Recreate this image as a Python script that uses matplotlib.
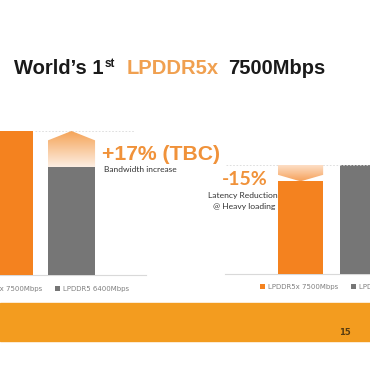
import matplotlib
matplotlib.use("Agg")
import numpy as np
import matplotlib.pyplot as plt
from matplotlib.patches import Polygon, Rectangle

# values (relative bar heights)
legend_labels = ["LPDDR5x 7500Mbps", "LPDDR5 6400Mbps"]
bw_values = [100, 75]       # bandwidth
lat_values = [85, 100]      # latency under heavy load
bw_text = "+17% (TBC)"
bw_note = "Bandwidth increase"
lat_text = "-15%"
lat_note = ["Latency Reduction", "@ Heavy loading"]
page_no = "15"

ORANGE = "#F4821F"
GRAY = "#767676"
LINE = "#d9d9d9"
W, H = 370, 370

fig = plt.figure(figsize=(3.7, 3.7), dpi=100)
fig.patch.set_facecolor("white")


def fx(x):
    return x / W


def fy(y):
    return 1 - y / H


def box(x0, y0, x1, y1):
    # pixel box (top-left origin) -> figure fraction rect
    return [x0 / W, 1 - y1 / H, (x1 - x0) / W, (y1 - y0) / H]


def gradient(ax, poly, c_bottom, c_top):
    xs, ys = poly.get_xy()[:, 0], poly.get_xy()[:, 1]
    g = np.linspace(0, 1, 64)[:, None, None]
    img = np.array(c_bottom) / 255 * (1 - g) + np.array(c_top) / 255 * g
    ax.add_patch(poly)
    im = ax.imshow(img, extent=(xs.min(), xs.max(), ys.min(), ys.max()),
                   origin="lower", aspect="auto", zorder=3)
    im.set_clip_path(poly)


# ---- left chart: bandwidth
ax1 = fig.add_axes(box(-21.5, 131, 145.9, 275))
ax1.bar(0, bw_values[0], 0.76, color=ORANGE, label=legend_labels[0], zorder=2)
ax1.bar(1, bw_values[1], 0.76, color=GRAY, label=legend_labels[1], zorder=2)
ax1.axhline(0, color=LINE, lw=0.8, clip_on=False, zorder=1)
ax1.hlines(bw_values[0], 0.41, 2.02, colors=LINE, linestyles=(0, (2, 2)), lw=0.6)
up = Polygon([(0.62, bw_values[1]), (0.62, 93.5), (1, bw_values[0]),
              (1.38, 93.5), (1.38, bw_values[1])], closed=True,
             facecolor="none", edgecolor="none", transform=ax1.transData)
gradient(ax1, up, (253, 238, 226), (245, 164, 88))
ax1.set_xlim(-0.5, 2.2)
ax1.set_ylim(0, 100)
ax1.axis("off")
ax1.legend(loc="center left", bbox_to_anchor=(fx(-36), fy(289)),
           bbox_transform=fig.transFigure, ncol=2, frameon=False, fontsize=5,
           handlelength=0.7, handleheight=0.7, handletextpad=0.4,
           columnspacing=1.9, borderpad=0, borderaxespad=0, labelcolor="#808080")

# ---- right chart: latency
ax2 = fig.add_axes(box(224.9, 165, 424.5, 274))
ax2.bar(0, lat_values[0], 0.73, color=ORANGE, label=legend_labels[0], zorder=2)
ax2.bar(1, lat_values[1], 0.73, color=GRAY, label=legend_labels[1], zorder=2)
ax2.axhline(0, color=LINE, lw=0.8, clip_on=False, zorder=1)
ax2.hlines(lat_values[1], -1.2, 2.0, colors=LINE, linestyles=(0, (2, 2)), lw=0.6)
down = Polygon([(-0.365, lat_values[1]), (0.365, lat_values[1]), (0.365, 91),
                (0, lat_values[0]), (-0.365, 91)], closed=True,
               facecolor="none", edgecolor="none", transform=ax2.transData)
gradient(ax2, down, (246, 162, 92), (253, 226, 204))
ax2.set_xlim(-1.22, 2.0)
ax2.set_ylim(0, 100)
ax2.axis("off")
ax2.legend(loc="center left", bbox_to_anchor=(fx(260), fy(287)),
           bbox_transform=fig.transFigure, ncol=2, frameon=False, fontsize=5,
           handlelength=0.7, handleheight=0.7, handletextpad=0.4,
           columnspacing=1.9, borderpad=0, borderaxespad=0, labelcolor="#808080")

# ---- title
renderer = fig.canvas.get_renderer()
tkw = dict(fontweight="bold", family="Liberation Sans", va="baseline")
t = fig.text(fx(14), fy(74), "World’s 1", color="#1a1a1a", fontsize=14.5, **tkw)
x = 14 + t.get_window_extent(renderer).width + 1
fig.text(fx(x), fy(67), "st", color="#1a1a1a", fontsize=8.5, **tkw)
fig.text(fx(127), fy(74), "LPDDR5x", color="#F0A050", fontsize=14.5, **tkw)
fig.text(fx(228), fy(74), "7500Mbps", color="#1a1a1a", fontsize=14.5, **tkw)

# ---- callouts
fig.text(fx(102), fy(160), bw_text, color="#F0923A", fontsize=15.2,
         fontweight="bold", family="Liberation Sans", va="baseline")
fig.text(fx(104), fy(172), bw_note, color="#333333", fontsize=6,
         family="Lato", va="baseline")
fig.text(fx(245), fy(185), lat_text, color="#F0923A", fontsize=14,
         fontweight="bold", family="Lato", va="baseline", ha="center")
fig.text(fx(243), fy(198), lat_note[0], color="#333333", fontsize=6.1,
         family="Lato", va="baseline", ha="center")
fig.text(fx(244), fy(209), lat_note[1], color="#333333", fontsize=6.1,
         family="Lato", va="baseline", ha="center")

# ---- footer band
fig.add_artist(Rectangle((0, fy(341)), 1, (341 - 303) / H,
                         transform=fig.transFigure, color="#F39C1F", zorder=0))
fig.text(fx(345), fy(335), page_no, color="#5a3d10", fontsize=6,
         fontweight="bold", ha="center", va="baseline")

fig.savefig("out.png", dpi=100)
